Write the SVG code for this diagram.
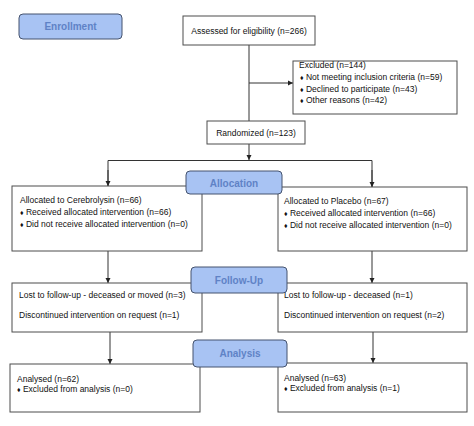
<svg xmlns="http://www.w3.org/2000/svg" width="474" height="426" viewBox="0 0 474 426">
<defs>
<style>
.box{fill:#ffffff;stroke:#4d4d4d;stroke-width:1}
.lab{fill:#a8c3f3;stroke:#45536e;stroke-width:1}
.lt{font-family:"Liberation Sans",Arial,sans-serif;font-size:10px;font-weight:bold;fill:#5f82c6;text-anchor:middle}
.t{font-family:"Liberation Sans",Arial,sans-serif;font-size:8.5px;fill:#111111}
.b{font-size:7px}
.ln{fill:none;stroke:#333333;stroke-width:1}
</style>
<marker id="ah" markerWidth="6" markerHeight="6" refX="5" refY="3" orient="auto" markerUnits="userSpaceOnUse">
<path d="M0,0.5 L5,3 L0,5.5 Z" fill="#222222"/>
</marker>
</defs>
<rect width="474" height="426" fill="#ffffff"/>
<g id="connectors">
<line class="ln" x1="249" y1="45" x2="249" y2="121"/>
<line class="ln" x1="249" y1="83" x2="293" y2="83" marker-end="url(#ah)"/>
<line class="ln" x1="249" y1="144" x2="249" y2="160" marker-end="url(#ah)"/>
<polyline class="ln" points="108,186 108,160.5 372,160.5 372,187"/>
<line class="ln" x1="108" y1="170" x2="108" y2="186" marker-end="url(#ah)"/>
<line class="ln" x1="372" y1="170" x2="372" y2="187" marker-end="url(#ah)"/>
<line class="ln" x1="108" y1="251" x2="108" y2="283" marker-end="url(#ah)"/>
<line class="ln" x1="372" y1="251" x2="372" y2="283" marker-end="url(#ah)"/>
<line class="ln" x1="110" y1="332" x2="110" y2="364" marker-end="url(#ah)"/>
<line class="ln" x1="373" y1="332" x2="373" y2="363" marker-end="url(#ah)"/>
</g>
<g id="assessed">
<rect class="box" x="183" y="16" width="132" height="29"/>
<text class="t" x="249" y="33.5" text-anchor="middle">Assessed for eligibility (n=266)</text>
</g>
<g id="excluded">
<rect class="box" x="293" y="61" width="164" height="53"/>
<text class="t" x="299" y="68">Excluded (n=144)</text>
<text class="t" x="300" y="80"><tspan class="b">♦</tspan> Not meeting inclusion criteria (n=59)</text>
<text class="t" x="300" y="91.5"><tspan class="b">♦</tspan> Declined to participate (n=43)</text>
<text class="t" x="300" y="103"><tspan class="b">♦</tspan> Other reasons (n=42)</text>
</g>
<g id="randomized">
<rect class="box" x="207" y="121" width="98" height="23"/>
<text class="t" x="256" y="135.5" text-anchor="middle">Randomized (n=123)</text>
</g>
<g id="alloc-left">
<rect class="box" x="12" y="186" width="190" height="65"/>
<text class="t" x="20" y="203">Allocated to Cerebrolysin (n=66)</text>
<text class="t" x="20" y="214.5"><tspan class="b">♦</tspan> Received allocated intervention (n=66)</text>
<text class="t" x="20" y="227"><tspan class="b">♦</tspan> Did not receive allocated intervention (n=0)</text>
</g>
<g id="alloc-right">
<rect class="box" x="278" y="187" width="189" height="64"/>
<text class="t" x="284" y="204">Allocated to Placebo (n=67)</text>
<text class="t" x="284" y="216"><tspan class="b">♦</tspan> Received allocated intervention (n=66)</text>
<text class="t" x="284" y="228"><tspan class="b">♦</tspan> Did not receive allocated intervention (n=0)</text>
</g>
<g id="follow-left">
<rect class="box" x="12" y="283" width="190" height="49"/>
<text class="t" x="19" y="298">Lost to follow-up - deceased or moved (n=3)</text>
<text class="t" x="19" y="318">Discontinued intervention on request (n=1)</text>
</g>
<g id="follow-right">
<rect class="box" x="278" y="283" width="189" height="49"/>
<text class="t" x="284" y="298">Lost to follow-up - deceased (n=1)</text>
<text class="t" x="284" y="318">Discontinued intervention on request (n=2)</text>
</g>
<g id="analysis-left">
<rect class="box" x="10" y="364" width="190" height="48"/>
<text class="t" x="17" y="382">Analysed (n=62)</text>
<text class="t" x="17" y="391.5"><tspan class="b">♦</tspan> Excluded from analysis (n=0)</text>
</g>
<g id="analysis-right">
<rect class="box" x="278" y="363" width="189" height="49"/>
<text class="t" x="284" y="381">Analysed (n=63)</text>
<text class="t" x="284" y="390.5"><tspan class="b">♦</tspan> Excluded from analysis (n=1)</text>
</g>
<g id="label-enrollment">
<rect class="lab" x="19" y="14" width="103" height="25" rx="4"/>
<text class="lt" x="70.5" y="29.5">Enrollment</text>
</g>
<g id="label-allocation">
<rect class="lab" x="186" y="171" width="96" height="23" rx="4"/>
<text class="lt" x="234" y="186.5">Allocation</text>
</g>
<g id="label-followup">
<rect class="lab" x="191" y="267" width="96" height="26" rx="4"/>
<text class="lt" x="239" y="283.5">Follow-Up</text>
</g>
<g id="label-analysis">
<rect class="lab" x="193" y="340" width="94" height="27" rx="4"/>
<text class="lt" x="240" y="357">Analysis</text>
</g>
</svg>
